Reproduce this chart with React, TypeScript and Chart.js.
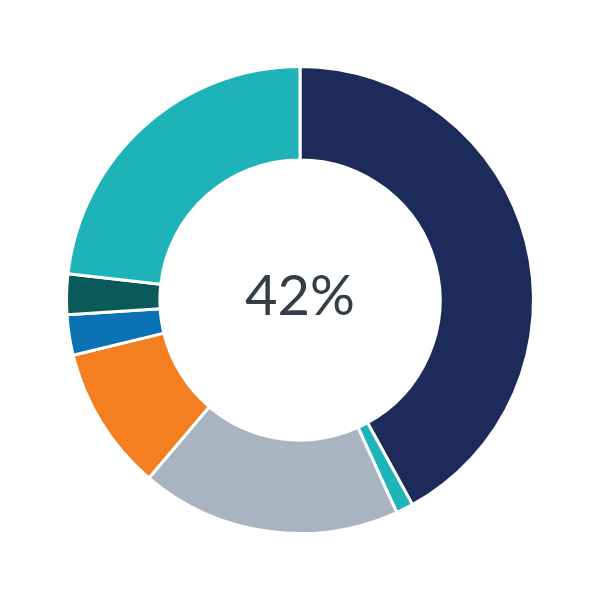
import { useEffect, useRef } from "react";
import { Chart, registerables } from "chart.js";

Chart.register(...registerables);

const labels = ["A", "B", "C", "D", "E", "F", "G"];
const values = [42, 1.2, 18, 10.0, 2.8, 2.8, 23.2];
const colors = ["#1c2b5a", "#1db5b9", "#a9b4c2", "#f37f21", "#0b72b5", "#0b5a5a", "#1db3b8"];
const centerLabel = "42%";

export default function App() {
  const canvasRef = useRef<HTMLCanvasElement>(null);
  const chartRef = useRef<Chart<"doughnut"> | null>(null);

  useEffect(() => {
    if (!canvasRef.current) return;
    if (chartRef.current) chartRef.current.destroy();

    chartRef.current = new Chart(canvasRef.current, {
      type: "doughnut",
      data: {
        labels,
        datasets: [
          {
            data: values,
            backgroundColor: colors,
            borderColor: "#ffffff",
            borderWidth: 3,
          },
        ],
      },
      options: {
        animation: false,
        responsive: true,
        maintainAspectRatio: false,
        cutout: "60%",
        layout: { padding: 65 },
        plugins: {
          legend: { display: false },
          tooltip: { enabled: false },
        },
      },
    });

    return () => {
      chartRef.current?.destroy();
      chartRef.current = null;
    };
  }, []);

  return (
    <div style={{ position: "absolute", top: 0, left: 0, width: 600, height: 600, background: "#fff" }}>
      <canvas ref={canvasRef} />
      <div
        style={{
          position: "absolute",
          top: -7,
          left: 0,
          width: 600,
          height: 600,
          display: "flex",
          alignItems: "center",
          justifyContent: "center",
          fontFamily: "Lato, sans-serif",
          fontSize: 56,
          color: "#333e48",
          pointerEvents: "none",
        }}
      >
        {centerLabel}
      </div>
    </div>
  );
}
